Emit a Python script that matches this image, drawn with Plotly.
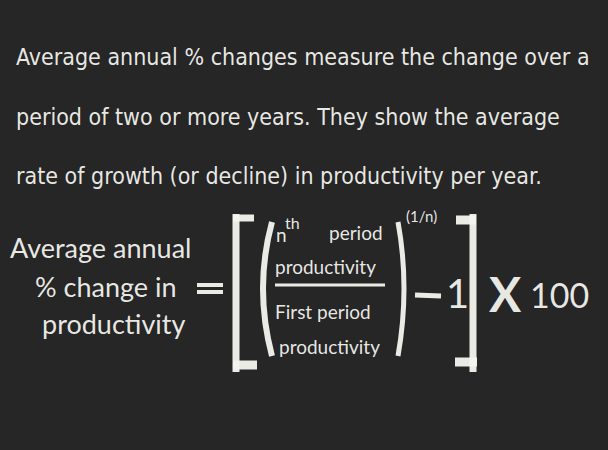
import plotly.graph_objects as go

# chalkboard text, one entry per line
intro_lines = [
    "Average annual % changes measure the change over a",
    "period of two or more years. They show the average",
    "rate of growth (or decline) in productivity per year.",
]
intro_y = [57, 117, 176]

label_lines = ["Average annual", "% change in", "productivity"]
label_x = [8, 33, 40]
label_y = [247, 286, 323]

numerator = ["period", "productivity"]
numerator_x = [327, 273]
numerator_y = [232, 266]
denominator = ["First period", "productivity"]
denominator_x = [273, 277]
denominator_y = [311, 346]

CHALK = "rgba(245,245,240,0.95)"
BOARD = "#262626"
HAND = "DejaVu Sans Condensed, sans-serif"
ROUND = "Lato, Noto Sans, sans-serif"

fig = go.Figure()
ann = []


def txt(s, x, y, size, family=ROUND, anchor="left", bold=False):
    ann.append(dict(
        text="<b>%s</b>" % s if bold else s, x=x, y=y, xref="x", yref="y",
        xanchor=anchor, yanchor="middle", showarrow=False,
        font=dict(family=family, size=size, color=CHALK)))


for s, y in zip(intro_lines, intro_y):
    txt(s, 14, y, 23, family=HAND)

for s, x, y in zip(label_lines, label_x, label_y):
    txt(s, x, y, 27)

for s, x, y in zip(numerator, numerator_x, numerator_y):
    txt(s, x, y, 19)
for s, x, y in zip(denominator, denominator_x, denominator_y):
    txt(s, x, y, 19)

txt("n", 274, 234, 19)
txt("th", 283, 222, 16)
txt("(1/n)", 404, 216, 15)
txt("1", 444, 293, 40)
txt("X", 487, 293, 48, bold=True)
txt("100", 528, 294, 34)

shapes = []


def stroke(x0, y0, x1, y1, w):
    shapes.append(dict(type="line", x0=x0, y0=y0, x1=x1, y1=y1, xref="x", yref="y",
                       line=dict(color=CHALK, width=w)))


def curve(path, w):
    shapes.append(dict(type="path", path=path, xref="x", yref="y",
                       line=dict(color=CHALK, width=w)))


# equals sign
stroke(197, 285, 223, 285, 4)
stroke(197, 292, 223, 292, 4)

# left bracket
stroke(236, 214, 236, 372, 7)
stroke(233, 218, 254, 218, 7)
stroke(233, 365, 257, 365, 9)

# right bracket
stroke(473, 214, 473, 372, 7)
stroke(456, 220, 476, 220, 9)
stroke(455, 362, 477, 362, 9)

# parentheses
curve("M 272,222 Q 254,288 272,356", 6)
curve("M 398,222 Q 410,288 398,356", 5)

# fraction bar and minus
stroke(275, 285, 385, 285, 3)
stroke(415, 295, 441, 296, 5)

fig.update_layout(
    width=608, height=450, margin=dict(l=0, r=0, t=0, b=0),
    paper_bgcolor=BOARD, plot_bgcolor=BOARD,
    xaxis=dict(range=[0, 608], visible=False, fixedrange=True),
    yaxis=dict(range=[450, 0], visible=False, fixedrange=True),
    annotations=ann, shapes=shapes, showlegend=False,
)

fig.write_html("out.html", config={"displayModeBar": False},
               post_script="document.body.style.margin='0';"
                           "document.body.style.background='%s';" % BOARD)
